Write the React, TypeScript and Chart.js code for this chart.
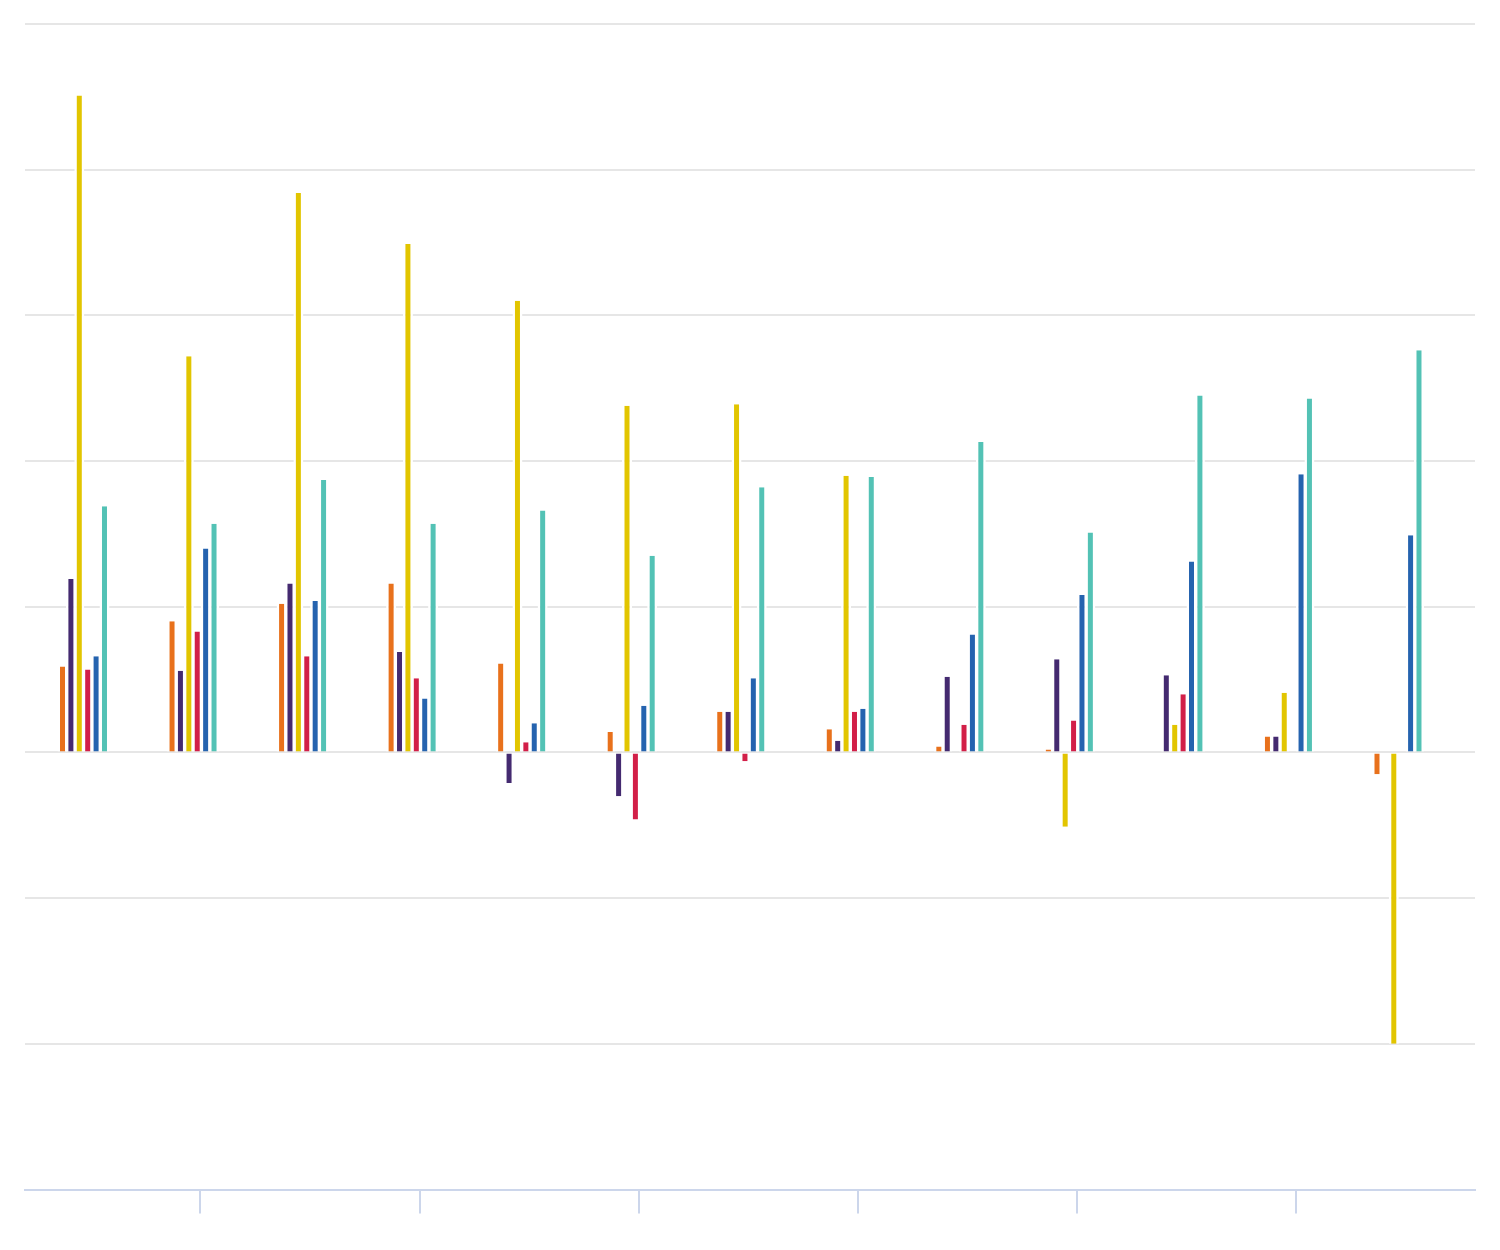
import { useEffect, useRef } from "react";
import { Chart, registerables } from "chart.js";

Chart.register(...registerables);

// Category positions (13 periods) and x-axis tick positions (every second period)
const periods = [0, 1, 2, 3, 4, 5, 6, 7, 8, 9, 10, 11, 12];
const xTicks = [1.068, 3.068, 5.068, 7.068, 9.068, 11.068];
const yTicks = [-3, -2, -1, 0, 1, 2, 3, 4, 5];

// Series values (one value per period, null = no data)
const seriesOrange = [0.59, 0.9, 1.02, 1.16, 0.61, 0.14, 0.28, 0.16, 0.04, 0.02, 0, 0.11, -0.15];
const seriesPurple = [1.19, 0.56, 1.16, 0.69, -0.21, -0.3, 0.28, 0.08, 0.52, 0.64, 0.53, 0.11, null];
const seriesYellow = [4.51, 2.72, 3.84, 3.49, 3.1, 2.38, 2.39, 1.9, 0, -0.51, 0.19, 0.41, -2.0];
const seriesRed = [0.57, 0.83, 0.66, 0.51, 0.07, -0.46, -0.06, 0.28, 0.19, 0.22, 0.4, null, null];
const seriesBlue = [0.66, 1.4, 1.04, 0.37, 0.2, 0.32, 0.51, 0.3, 0.81, 1.08, 1.31, 1.91, 1.49];
const seriesTeal = [1.69, 1.57, 1.87, 1.57, 1.66, 1.35, 1.82, 1.89, 2.13, 1.51, 2.45, 2.43, 2.76];

const seriesList = [
  { values: seriesOrange, color: "#e8711c" },
  { values: seriesPurple, color: "#442a70" },
  { values: seriesYellow, color: "#e2c500" },
  { values: seriesRed, color: "#d21f48" },
  { values: seriesBlue, color: "#2563af" },
  { values: seriesTeal, color: "#53c2b5" },
];

export default function App() {
  const ref = useRef<HTMLCanvasElement>(null);

  useEffect(() => {
    if (!ref.current) return;
    const chart = new Chart(ref.current, {
      type: "bar",
      data: {
        datasets: seriesList.map((s) => ({
          data: periods.map((p, i) => ({ x: p, y: s.values[i] })),
          backgroundColor: s.color,
          borderColor: "#ffffff",
          borderWidth: { left: 2.5, right: 2.5, top: 0, bottom: 0 },
          borderSkipped: false,
          categoryPercentage: 0.46,
          barPercentage: 1.19,
          inflateAmount: 0,
        })),
      },
      options: {
        animation: false,
        responsive: true,
        maintainAspectRatio: false,
        layout: { padding: { left: 25, right: 25, top: 24, bottom: 36.5 } },
        plugins: {
          legend: { display: false },
          tooltip: { enabled: false },
          title: { display: false },
        },
        scales: {
          x: {
            type: "linear",
            offset: false,
            min: -0.534,
            max: 12.703,
            afterBuildTicks: (scale: any) => {
              scale.ticks = xTicks.map((v) => ({ value: v }));
            },
            ticks: { display: false },
            grid: {
              offset: false,
              drawOnChartArea: false,
              drawTicks: true,
              tickLength: 24,
              color: "#ccd6eb",
              lineWidth: 2,
            },
            border: { display: true, color: "#ccd6eb", width: 2 },
          },
          y: {
            type: "linear",
            min: -3,
            max: 5,
            afterBuildTicks: (scale: any) => {
              scale.ticks = yTicks.map((v) => ({ value: v }));
            },
            ticks: { display: false },
            grid: {
              drawTicks: false,
              lineWidth: 2,
              color: (ctx: any) =>
                ctx.tick && ctx.tick.value === -3 ? "rgba(0,0,0,0)" : "#e6e6e6",
            },
            border: { display: false },
          },
        },
      },
    });
    return () => chart.destroy();
  }, []);

  return (
    <div
      style={{
        position: "absolute",
        left: 0,
        top: 0,
        width: 1500,
        height: 1250,
        background: "#ffffff",
      }}
    >
      <canvas ref={ref} />
    </div>
  );
}
